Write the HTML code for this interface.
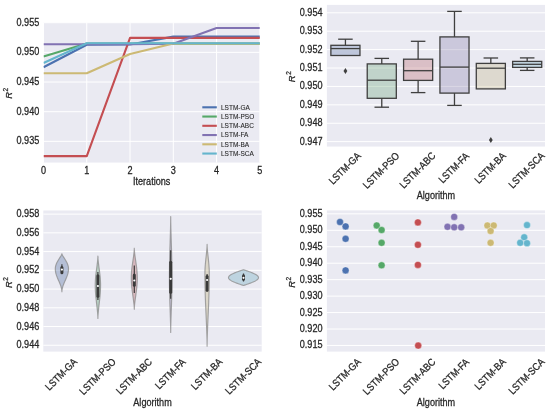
<!DOCTYPE html>
<html><head><meta charset="utf-8"><style>
html,body{margin:0;padding:0;background:#fff;width:550px;height:411px;overflow:hidden}
svg{display:block;filter:blur(0.35px);font-family:"Liberation Sans", sans-serif;fill:#262626}
text{stroke:#262626;stroke-width:0.24px}
</style></head><body>
<svg width="550" height="411" viewBox="0 0 550 411">
<defs><clipPath id="c1"><rect x="43.5" y="22.5" width="216.35" height="140.06"/></clipPath></defs>
<rect width="550" height="411" fill="#fff"/>
<rect x="43.5" y="22.5" width="216.35" height="140.06" fill="#EAEAF2"/>
<line x1="43.5" x2="259.85" y1="22.69" y2="22.69" stroke="#fff" stroke-width="1"/>
<line x1="43.5" x2="259.85" y1="52.36" y2="52.36" stroke="#fff" stroke-width="1"/>
<line x1="43.5" x2="259.85" y1="82.03" y2="82.03" stroke="#fff" stroke-width="1"/>
<line x1="43.5" x2="259.85" y1="111.69" y2="111.69" stroke="#fff" stroke-width="1"/>
<line x1="43.5" x2="259.85" y1="141.35" y2="141.35" stroke="#fff" stroke-width="1"/>
<line x1="43.50" x2="43.50" y1="22.5" y2="162.56" stroke="#fff" stroke-width="1"/>
<line x1="86.77" x2="86.77" y1="22.5" y2="162.56" stroke="#fff" stroke-width="1"/>
<line x1="130.04" x2="130.04" y1="22.5" y2="162.56" stroke="#fff" stroke-width="1"/>
<line x1="173.31" x2="173.31" y1="22.5" y2="162.56" stroke="#fff" stroke-width="1"/>
<line x1="216.58" x2="216.58" y1="22.5" y2="162.56" stroke="#fff" stroke-width="1"/>
<line x1="259.85" x2="259.85" y1="22.5" y2="162.56" stroke="#fff" stroke-width="1"/>
<text transform="translate(39.30,25.69) scale(1,1.12)" text-anchor="end" font-size="9.1">0.955</text>
<text transform="translate(39.30,55.36) scale(1,1.12)" text-anchor="end" font-size="9.1">0.950</text>
<text transform="translate(39.30,85.03) scale(1,1.12)" text-anchor="end" font-size="9.1">0.945</text>
<text transform="translate(39.30,114.69) scale(1,1.12)" text-anchor="end" font-size="9.1">0.940</text>
<text transform="translate(39.30,144.35) scale(1,1.12)" text-anchor="end" font-size="9.1">0.935</text>
<text transform="translate(43.50,173.9) scale(1,1.12)" text-anchor="middle" font-size="9.1">0</text>
<text transform="translate(86.77,173.9) scale(1,1.12)" text-anchor="middle" font-size="9.1">1</text>
<text transform="translate(130.04,173.9) scale(1,1.12)" text-anchor="middle" font-size="9.1">2</text>
<text transform="translate(173.31,173.9) scale(1,1.12)" text-anchor="middle" font-size="9.1">3</text>
<text transform="translate(216.58,173.9) scale(1,1.12)" text-anchor="middle" font-size="9.1">4</text>
<text transform="translate(259.85,173.9) scale(1,1.12)" text-anchor="middle" font-size="9.1">5</text>
<text transform="translate(151.68,184.6) scale(1,1.12)" text-anchor="middle" font-size="9.1">Iterations</text>
<text transform="translate(11.5,93.33) rotate(-90)" text-anchor="middle" font-size="9.1"><tspan font-style="italic" font-size="9.3">R</tspan><tspan font-size="6.5" dx="0.7" dy="-3.3">2</tspan></text>
<g clip-path="url(#c1)">
<polyline points="43.50,67.20 86.77,44.80 130.04,44.50 173.31,36.60 216.58,36.60 259.85,36.60" fill="none" stroke="#4C72B0" stroke-width="2.1" stroke-linejoin="round" stroke-linecap="butt"/>
<polyline points="43.50,56.40 86.77,43.60 130.04,43.60 173.31,43.60 216.58,43.60 259.85,43.60" fill="none" stroke="#55A868" stroke-width="2.1" stroke-linejoin="round" stroke-linecap="butt"/>
<polyline points="43.50,156.10 86.77,156.10 130.04,37.90 173.31,37.90 216.58,37.90 259.85,37.90" fill="none" stroke="#C44E52" stroke-width="2.1" stroke-linejoin="round" stroke-linecap="butt"/>
<polyline points="43.50,44.20 86.77,44.20 130.04,44.20 173.31,43.80 216.58,28.00 259.85,28.00" fill="none" stroke="#8172B2" stroke-width="2.1" stroke-linejoin="round" stroke-linecap="butt"/>
<polyline points="43.50,73.20 86.77,73.20 130.04,54.00 173.31,43.60 216.58,43.60 259.85,43.60" fill="none" stroke="#CCB974" stroke-width="2.1" stroke-linejoin="round" stroke-linecap="butt"/>
<polyline points="43.50,63.00 86.77,43.30 130.04,43.30 173.31,43.30 216.58,43.30 259.85,43.30" fill="none" stroke="#64B5CD" stroke-width="2.1" stroke-linejoin="round" stroke-linecap="butt"/>
</g>
<line x1="202.3" x2="216.8" y1="107.30" y2="107.30" stroke="#4C72B0" stroke-width="2.1"/>
<text transform="translate(221,109.70) scale(1,1.06)" font-size="6.5" style="stroke-width:0.08px">LSTM-GA</text>
<line x1="202.3" x2="216.8" y1="116.55" y2="116.55" stroke="#55A868" stroke-width="2.1"/>
<text transform="translate(221,118.95) scale(1,1.06)" font-size="6.5" style="stroke-width:0.08px">LSTM-PSO</text>
<line x1="202.3" x2="216.8" y1="125.80" y2="125.80" stroke="#C44E52" stroke-width="2.1"/>
<text transform="translate(221,128.20) scale(1,1.06)" font-size="6.5" style="stroke-width:0.08px">LSTM-ABC</text>
<line x1="202.3" x2="216.8" y1="135.05" y2="135.05" stroke="#8172B2" stroke-width="2.1"/>
<text transform="translate(221,137.45) scale(1,1.06)" font-size="6.5" style="stroke-width:0.08px">LSTM-FA</text>
<line x1="202.3" x2="216.8" y1="144.30" y2="144.30" stroke="#CCB974" stroke-width="2.1"/>
<text transform="translate(221,146.70) scale(1,1.06)" font-size="6.5" style="stroke-width:0.08px">LSTM-BA</text>
<line x1="202.3" x2="216.8" y1="153.55" y2="153.55" stroke="#64B5CD" stroke-width="2.1"/>
<text transform="translate(221,155.95) scale(1,1.06)" font-size="6.5" style="stroke-width:0.08px">LSTM-SCA</text>
<rect x="326.9" y="4.9" width="218.10" height="141.65" fill="#EAEAF2"/>
<line x1="326.9" x2="545.0" y1="141.64" y2="141.64" stroke="#fff" stroke-width="1"/>
<line x1="326.9" x2="545.0" y1="123.24" y2="123.24" stroke="#fff" stroke-width="1"/>
<line x1="326.9" x2="545.0" y1="104.84" y2="104.84" stroke="#fff" stroke-width="1"/>
<line x1="326.9" x2="545.0" y1="86.43" y2="86.43" stroke="#fff" stroke-width="1"/>
<line x1="326.9" x2="545.0" y1="68.03" y2="68.03" stroke="#fff" stroke-width="1"/>
<line x1="326.9" x2="545.0" y1="49.63" y2="49.63" stroke="#fff" stroke-width="1"/>
<line x1="326.9" x2="545.0" y1="31.22" y2="31.22" stroke="#fff" stroke-width="1"/>
<line x1="326.9" x2="545.0" y1="12.82" y2="12.82" stroke="#fff" stroke-width="1"/>
<text transform="translate(322.50,144.64) scale(1,1.12)" text-anchor="end" font-size="9.1">0.947</text>
<text transform="translate(322.50,126.24) scale(1,1.12)" text-anchor="end" font-size="9.1">0.948</text>
<text transform="translate(322.50,107.84) scale(1,1.12)" text-anchor="end" font-size="9.1">0.949</text>
<text transform="translate(322.50,89.43) scale(1,1.12)" text-anchor="end" font-size="9.1">0.950</text>
<text transform="translate(322.50,71.03) scale(1,1.12)" text-anchor="end" font-size="9.1">0.951</text>
<text transform="translate(322.50,52.63) scale(1,1.12)" text-anchor="end" font-size="9.1">0.952</text>
<text transform="translate(322.50,34.22) scale(1,1.12)" text-anchor="end" font-size="9.1">0.953</text>
<text transform="translate(322.50,15.82) scale(1,1.12)" text-anchor="end" font-size="9.1">0.954</text>
<text transform="translate(294.7,76.62500000000001) rotate(-90)" text-anchor="middle" font-size="9.1"><tspan font-style="italic" font-size="9.3">R</tspan><tspan font-size="6.5" dx="0.7" dy="-3.3">2</tspan></text>
<text transform="translate(344.57,168.10) rotate(-45) scale(1,1.12)" text-anchor="middle" dominant-baseline="central" font-size="9.1">LSTM-GA</text>
<text transform="translate(380.92,170.25) rotate(-45) scale(1,1.12)" text-anchor="middle" dominant-baseline="central" font-size="9.1">LSTM-PSO</text>
<text transform="translate(417.27,170.07) rotate(-45) scale(1,1.12)" text-anchor="middle" dominant-baseline="central" font-size="9.1">LSTM-ABC</text>
<text transform="translate(453.62,167.56) rotate(-45) scale(1,1.12)" text-anchor="middle" dominant-baseline="central" font-size="9.1">LSTM-FA</text>
<text transform="translate(489.98,167.74) rotate(-45) scale(1,1.12)" text-anchor="middle" dominant-baseline="central" font-size="9.1">LSTM-BA</text>
<text transform="translate(526.33,170.07) rotate(-45) scale(1,1.12)" text-anchor="middle" dominant-baseline="central" font-size="9.1">LSTM-SCA</text>
<text transform="translate(435.95,199.3) scale(1,1.12)" text-anchor="middle" font-size="9.1">Algorithm</text>
<rect x="330.88" y="45.30" width="29.08" height="10.20" fill="#5875a4" fill-opacity="0.3" stroke="#3f3f3f" stroke-width="1.3"/>
<line x1="330.88" x2="359.97" y1="48.6" y2="48.6" stroke="#3f3f3f" stroke-width="1.3"/>
<line x1="345.43" x2="345.43" y1="39.2" y2="45.3" stroke="#3f3f3f" stroke-width="1.3"/>
<line x1="338.16" x2="352.69" y1="39.2" y2="39.2" stroke="#3f3f3f" stroke-width="1.3"/>
<path d="M345.43,68.10 L347.32,71.00 L345.43,73.90 L343.53,71.00Z" fill="#3f3f3f"/>
<rect x="367.23" y="63.90" width="29.08" height="34.40" fill="#5f9e6e" fill-opacity="0.3" stroke="#3f3f3f" stroke-width="1.3"/>
<line x1="367.23" x2="396.31" y1="80.2" y2="80.2" stroke="#3f3f3f" stroke-width="1.3"/>
<line x1="381.77" x2="381.77" y1="58.4" y2="63.9" stroke="#3f3f3f" stroke-width="1.3"/>
<line x1="374.50" x2="389.04" y1="58.4" y2="58.4" stroke="#3f3f3f" stroke-width="1.3"/>
<line x1="381.77" x2="381.77" y1="98.3" y2="107.2" stroke="#3f3f3f" stroke-width="1.3"/>
<line x1="374.50" x2="389.04" y1="107.2" y2="107.2" stroke="#3f3f3f" stroke-width="1.3"/>
<rect x="403.58" y="59.20" width="29.08" height="21.20" fill="#b55d60" fill-opacity="0.3" stroke="#3f3f3f" stroke-width="1.3"/>
<line x1="403.58" x2="432.67" y1="70.7" y2="70.7" stroke="#3f3f3f" stroke-width="1.3"/>
<line x1="418.12" x2="418.12" y1="41.3" y2="59.2" stroke="#3f3f3f" stroke-width="1.3"/>
<line x1="410.86" x2="425.39" y1="41.3" y2="41.3" stroke="#3f3f3f" stroke-width="1.3"/>
<line x1="418.12" x2="418.12" y1="80.4" y2="92.6" stroke="#3f3f3f" stroke-width="1.3"/>
<line x1="410.86" x2="425.39" y1="92.6" y2="92.6" stroke="#3f3f3f" stroke-width="1.3"/>
<rect x="439.94" y="36.90" width="29.08" height="56.20" fill="#857aaa" fill-opacity="0.3" stroke="#3f3f3f" stroke-width="1.3"/>
<line x1="439.94" x2="469.02" y1="67.1" y2="67.1" stroke="#3f3f3f" stroke-width="1.3"/>
<line x1="454.48" x2="454.48" y1="11.4" y2="36.9" stroke="#3f3f3f" stroke-width="1.3"/>
<line x1="447.21" x2="461.75" y1="11.4" y2="11.4" stroke="#3f3f3f" stroke-width="1.3"/>
<line x1="454.48" x2="454.48" y1="93.1" y2="105.4" stroke="#3f3f3f" stroke-width="1.3"/>
<line x1="447.21" x2="461.75" y1="105.4" y2="105.4" stroke="#3f3f3f" stroke-width="1.3"/>
<rect x="476.29" y="63.40" width="29.08" height="25.50" fill="#c1b37f" fill-opacity="0.3" stroke="#3f3f3f" stroke-width="1.3"/>
<line x1="476.29" x2="505.37" y1="68.2" y2="68.2" stroke="#3f3f3f" stroke-width="1.3"/>
<line x1="490.83" x2="490.83" y1="58.0" y2="63.4" stroke="#3f3f3f" stroke-width="1.3"/>
<line x1="483.56" x2="498.10" y1="58.0" y2="58.0" stroke="#3f3f3f" stroke-width="1.3"/>
<path d="M490.83,137.10 L492.73,140.00 L490.83,142.90 L488.93,140.00Z" fill="#3f3f3f"/>
<rect x="512.64" y="61.40" width="29.08" height="6.00" fill="#71aec0" fill-opacity="0.3" stroke="#3f3f3f" stroke-width="1.3"/>
<line x1="512.64" x2="541.72" y1="64.3" y2="64.3" stroke="#3f3f3f" stroke-width="1.3"/>
<line x1="527.18" x2="527.18" y1="57.9" y2="61.4" stroke="#3f3f3f" stroke-width="1.3"/>
<line x1="519.91" x2="534.45" y1="57.9" y2="57.9" stroke="#3f3f3f" stroke-width="1.3"/>
<line x1="527.18" x2="527.18" y1="67.4" y2="70.4" stroke="#3f3f3f" stroke-width="1.3"/>
<line x1="519.91" x2="534.45" y1="70.4" y2="70.4" stroke="#3f3f3f" stroke-width="1.3"/>
<rect x="43.3" y="210.5" width="218.40" height="141.10" fill="#EAEAF2"/>
<line x1="43.3" x2="261.7" y1="345.28" y2="345.28" stroke="#fff" stroke-width="1"/>
<line x1="43.3" x2="261.7" y1="326.54" y2="326.54" stroke="#fff" stroke-width="1"/>
<line x1="43.3" x2="261.7" y1="307.80" y2="307.80" stroke="#fff" stroke-width="1"/>
<line x1="43.3" x2="261.7" y1="289.06" y2="289.06" stroke="#fff" stroke-width="1"/>
<line x1="43.3" x2="261.7" y1="270.32" y2="270.32" stroke="#fff" stroke-width="1"/>
<line x1="43.3" x2="261.7" y1="251.58" y2="251.58" stroke="#fff" stroke-width="1"/>
<line x1="43.3" x2="261.7" y1="232.84" y2="232.84" stroke="#fff" stroke-width="1"/>
<line x1="43.3" x2="261.7" y1="214.10" y2="214.10" stroke="#fff" stroke-width="1"/>
<text transform="translate(39.30,348.28) scale(1,1.12)" text-anchor="end" font-size="9.1">0.944</text>
<text transform="translate(39.30,329.54) scale(1,1.12)" text-anchor="end" font-size="9.1">0.946</text>
<text transform="translate(39.30,310.80) scale(1,1.12)" text-anchor="end" font-size="9.1">0.948</text>
<text transform="translate(39.30,292.06) scale(1,1.12)" text-anchor="end" font-size="9.1">0.950</text>
<text transform="translate(39.30,273.32) scale(1,1.12)" text-anchor="end" font-size="9.1">0.952</text>
<text transform="translate(39.30,254.58) scale(1,1.12)" text-anchor="end" font-size="9.1">0.954</text>
<text transform="translate(39.30,235.84) scale(1,1.12)" text-anchor="end" font-size="9.1">0.956</text>
<text transform="translate(39.30,217.10) scale(1,1.12)" text-anchor="end" font-size="9.1">0.958</text>
<text transform="translate(11.5,282.55) rotate(-90)" text-anchor="middle" font-size="9.1"><tspan font-style="italic" font-size="9.3">R</tspan><tspan font-size="6.5" dx="0.7" dy="-3.3">2</tspan></text>
<text transform="translate(61.00,374.20) rotate(-45) scale(1,1.12)" text-anchor="middle" dominant-baseline="central" font-size="9.1">LSTM-GA</text>
<text transform="translate(97.40,376.35) rotate(-45) scale(1,1.12)" text-anchor="middle" dominant-baseline="central" font-size="9.1">LSTM-PSO</text>
<text transform="translate(133.80,376.17) rotate(-45) scale(1,1.12)" text-anchor="middle" dominant-baseline="central" font-size="9.1">LSTM-ABC</text>
<text transform="translate(170.20,373.66) rotate(-45) scale(1,1.12)" text-anchor="middle" dominant-baseline="central" font-size="9.1">LSTM-FA</text>
<text transform="translate(206.60,373.84) rotate(-45) scale(1,1.12)" text-anchor="middle" dominant-baseline="central" font-size="9.1">LSTM-BA</text>
<text transform="translate(243.00,376.17) rotate(-45) scale(1,1.12)" text-anchor="middle" dominant-baseline="central" font-size="9.1">LSTM-SCA</text>
<text transform="translate(152.50,405.9) scale(1,1.12)" text-anchor="middle" font-size="9.1">Algorithm</text>
<path d="M61.90,253.80 L62.27,254.75 L62.77,255.70 L63.33,256.65 L63.92,257.60 L64.52,258.55 L65.11,259.50 L65.69,260.45 L66.24,261.40 L66.74,262.35 L67.20,263.30 L67.59,264.25 L67.93,265.20 L68.19,266.15 L68.37,267.10 L68.47,268.05 L68.50,269.00 L68.46,269.95 L68.37,270.90 L68.23,271.85 L68.04,272.80 L67.81,273.75 L67.53,274.70 L67.22,275.65 L66.87,276.60 L66.50,277.55 L66.10,278.50 L65.69,279.45 L65.27,280.40 L64.85,281.35 L64.43,282.30 L64.03,283.25 L63.64,284.20 L63.28,285.15 L62.95,286.10 L62.65,287.05 L62.40,288.00 L62.19,288.95 L62.04,289.90 L61.94,290.85 L61.90,291.80 L61.90,291.80 L61.86,290.85 L61.76,289.90 L61.61,288.95 L61.40,288.00 L61.15,287.05 L60.85,286.10 L60.52,285.15 L60.16,284.20 L59.77,283.25 L59.37,282.30 L58.95,281.35 L58.53,280.40 L58.11,279.45 L57.70,278.50 L57.30,277.55 L56.93,276.60 L56.58,275.65 L56.27,274.70 L55.99,273.75 L55.76,272.80 L55.57,271.85 L55.43,270.90 L55.34,269.95 L55.30,269.00 L55.33,268.05 L55.43,267.10 L55.61,266.15 L55.87,265.20 L56.21,264.25 L56.60,263.30 L57.06,262.35 L57.56,261.40 L58.11,260.45 L58.69,259.50 L59.28,258.55 L59.88,257.60 L60.47,256.65 L61.03,255.70 L61.53,254.75 L61.90,253.80Z" fill="#5875a4" fill-opacity="0.36" stroke="#8a8a8a" stroke-opacity="0.75" stroke-width="1.15" stroke-linejoin="round"/>
<line x1="61.90" x2="61.90" y1="264.2" y2="274.0" stroke="#3a3a3a" stroke-width="1.2"/>
<line x1="61.90" x2="61.90" y1="267.50" y2="272.70" stroke="#3a3a3a" stroke-width="3.0" stroke-linecap="round"/>
<circle cx="61.90" cy="269.6" r="1.1" fill="#fff"/>
<path d="M97.90,256.10 L97.95,257.66 L98.05,259.22 L98.19,260.77 L98.35,262.33 L98.54,263.89 L98.74,265.44 L98.94,267.00 L99.15,268.56 L99.36,270.12 L99.57,271.68 L99.76,273.23 L99.94,274.79 L100.10,276.35 L100.25,277.91 L100.36,279.46 L100.45,281.02 L100.51,282.58 L100.55,284.13 L100.55,285.69 L100.53,287.25 L100.48,288.81 L100.42,290.37 L100.33,291.92 L100.23,293.48 L100.10,295.04 L99.96,296.59 L99.81,298.15 L99.64,299.71 L99.47,301.27 L99.29,302.82 L99.11,304.38 L98.93,305.94 L98.75,307.50 L98.58,309.06 L98.41,310.61 L98.26,312.17 L98.13,313.73 L98.02,315.28 L97.94,316.84 L97.90,318.40 L97.90,318.40 L97.86,316.84 L97.78,315.28 L97.67,313.73 L97.54,312.17 L97.39,310.61 L97.22,309.06 L97.05,307.50 L96.87,305.94 L96.69,304.38 L96.51,302.82 L96.33,301.27 L96.16,299.71 L95.99,298.15 L95.84,296.59 L95.70,295.04 L95.57,293.48 L95.47,291.92 L95.38,290.37 L95.32,288.81 L95.27,287.25 L95.25,285.69 L95.25,284.13 L95.29,282.58 L95.35,281.02 L95.44,279.46 L95.55,277.91 L95.70,276.35 L95.86,274.79 L96.04,273.23 L96.23,271.68 L96.44,270.12 L96.65,268.56 L96.86,267.00 L97.06,265.44 L97.26,263.89 L97.45,262.33 L97.61,260.77 L97.75,259.22 L97.85,257.66 L97.90,256.10Z" fill="#5f9e6e" fill-opacity="0.36" stroke="#8a8a8a" stroke-opacity="0.75" stroke-width="1.15" stroke-linejoin="round"/>
<line x1="97.90" x2="97.90" y1="272.0" y2="300.0" stroke="#3a3a3a" stroke-width="1.2"/>
<line x1="97.90" x2="97.90" y1="275.80" y2="296.20" stroke="#3a3a3a" stroke-width="3.0" stroke-linecap="round"/>
<circle cx="97.90" cy="286.0" r="1.1" fill="#fff"/>
<path d="M134.30,248.20 L134.35,249.73 L134.46,251.25 L134.60,252.78 L134.78,254.31 L134.97,255.84 L135.18,257.37 L135.40,258.89 L135.63,260.42 L135.85,261.95 L136.08,263.48 L136.29,265.00 L136.50,266.53 L136.68,268.06 L136.85,269.58 L136.99,271.11 L137.11,272.64 L137.20,274.17 L137.26,275.69 L137.30,277.22 L137.30,278.75 L137.27,280.28 L137.21,281.81 L137.13,283.33 L137.02,284.86 L136.89,286.39 L136.74,287.92 L136.57,289.44 L136.38,290.97 L136.18,292.50 L135.97,294.02 L135.76,295.55 L135.54,297.08 L135.33,298.61 L135.12,300.13 L134.92,301.66 L134.74,303.19 L134.58,304.72 L134.45,306.25 L134.35,307.77 L134.30,309.30 L134.30,309.30 L134.25,307.77 L134.15,306.25 L134.02,304.72 L133.86,303.19 L133.68,301.66 L133.48,300.13 L133.27,298.61 L133.06,297.08 L132.84,295.55 L132.63,294.02 L132.42,292.50 L132.22,290.97 L132.03,289.44 L131.86,287.92 L131.71,286.39 L131.58,284.86 L131.47,283.33 L131.39,281.81 L131.33,280.28 L131.30,278.75 L131.30,277.22 L131.34,275.69 L131.40,274.17 L131.49,272.64 L131.61,271.11 L131.75,269.58 L131.92,268.06 L132.10,266.53 L132.31,265.00 L132.52,263.48 L132.75,261.95 L132.97,260.42 L133.20,258.89 L133.42,257.37 L133.63,255.84 L133.82,254.31 L134.00,252.78 L134.14,251.25 L134.25,249.73 L134.30,248.20Z" fill="#b55d60" fill-opacity="0.36" stroke="#8a8a8a" stroke-opacity="0.75" stroke-width="1.15" stroke-linejoin="round"/>
<line x1="134.30" x2="134.30" y1="265.5" y2="292.9" stroke="#3a3a3a" stroke-width="1.2"/>
<line x1="134.30" x2="134.30" y1="275.00" y2="285.30" stroke="#3a3a3a" stroke-width="3.0" stroke-linecap="round"/>
<circle cx="134.30" cy="280.5" r="1.1" fill="#fff"/>
<path d="M170.70,216.60 L170.72,219.50 L170.76,222.39 L170.82,225.29 L170.88,228.19 L170.96,231.09 L171.04,233.98 L171.12,236.88 L171.21,239.78 L171.30,242.68 L171.39,245.57 L171.48,248.47 L171.57,251.37 L171.65,254.27 L171.72,257.16 L171.79,260.06 L171.85,262.96 L171.90,265.86 L171.94,268.75 L171.97,271.65 L171.99,274.55 L172.00,277.45 L172.00,280.35 L171.98,283.24 L171.94,286.14 L171.90,289.04 L171.84,291.94 L171.77,294.83 L171.69,297.73 L171.60,300.63 L171.51,303.52 L171.41,306.42 L171.30,309.32 L171.20,312.22 L171.10,315.12 L171.01,318.01 L170.92,320.91 L170.84,323.81 L170.77,326.70 L170.72,329.60 L170.70,332.50 L170.70,332.50 L170.68,329.60 L170.63,326.70 L170.56,323.81 L170.48,320.91 L170.39,318.01 L170.30,315.12 L170.20,312.22 L170.10,309.32 L169.99,306.42 L169.89,303.52 L169.80,300.63 L169.71,297.73 L169.63,294.83 L169.56,291.94 L169.50,289.04 L169.46,286.14 L169.42,283.24 L169.40,280.35 L169.40,277.45 L169.41,274.55 L169.43,271.65 L169.46,268.75 L169.50,265.86 L169.55,262.96 L169.61,260.06 L169.68,257.16 L169.75,254.27 L169.83,251.37 L169.92,248.47 L170.01,245.57 L170.10,242.68 L170.19,239.78 L170.28,236.88 L170.36,233.98 L170.44,231.09 L170.52,228.19 L170.58,225.29 L170.64,222.39 L170.68,219.50 L170.70,216.60Z" fill="#857aaa" fill-opacity="0.36" stroke="#8a8a8a" stroke-opacity="0.75" stroke-width="1.15" stroke-linejoin="round"/>
<line x1="170.70" x2="170.70" y1="250.3" y2="298.8" stroke="#3a3a3a" stroke-width="1.2"/>
<line x1="170.70" x2="170.70" y1="262.30" y2="292.20" stroke="#3a3a3a" stroke-width="3.0" stroke-linecap="round"/>
<circle cx="170.70" cy="278.8" r="1.1" fill="#fff"/>
<path d="M207.10,244.40 L207.19,246.94 L207.37,249.49 L207.60,252.03 L207.86,254.58 L208.14,257.12 L208.41,259.67 L208.67,262.21 L208.90,264.76 L209.08,267.31 L209.22,269.85 L209.29,272.39 L209.30,274.94 L209.29,277.49 L209.27,280.03 L209.24,282.57 L209.20,285.12 L209.15,287.67 L209.09,290.21 L209.02,292.75 L208.94,295.30 L208.86,297.85 L208.76,300.39 L208.67,302.94 L208.56,305.48 L208.45,308.02 L208.34,310.57 L208.23,313.12 L208.11,315.66 L208.00,318.20 L207.89,320.75 L207.78,323.30 L207.67,325.84 L207.56,328.38 L207.47,330.93 L207.38,333.48 L207.29,336.02 L207.22,338.56 L207.16,341.11 L207.12,343.65 L207.10,346.20 L207.10,346.20 L207.08,343.65 L207.04,341.11 L206.98,338.56 L206.91,336.02 L206.82,333.48 L206.73,330.93 L206.64,328.38 L206.53,325.84 L206.42,323.30 L206.31,320.75 L206.20,318.20 L206.09,315.66 L205.97,313.12 L205.86,310.57 L205.75,308.02 L205.64,305.48 L205.53,302.94 L205.44,300.39 L205.34,297.85 L205.26,295.30 L205.18,292.75 L205.11,290.21 L205.05,287.67 L205.00,285.12 L204.96,282.57 L204.93,280.03 L204.91,277.49 L204.90,274.94 L204.91,272.39 L204.98,269.85 L205.12,267.31 L205.30,264.76 L205.53,262.21 L205.79,259.67 L206.06,257.12 L206.34,254.58 L206.60,252.03 L206.83,249.49 L207.01,246.94 L207.10,244.40Z" fill="#c1b37f" fill-opacity="0.36" stroke="#8a8a8a" stroke-opacity="0.75" stroke-width="1.15" stroke-linejoin="round"/>
<line x1="207.10" x2="207.10" y1="274.0" y2="291.4" stroke="#3a3a3a" stroke-width="1.2"/>
<line x1="207.10" x2="207.10" y1="276.60" y2="290.20" stroke="#3a3a3a" stroke-width="3.0" stroke-linecap="round"/>
<circle cx="207.10" cy="280.0" r="1.1" fill="#fff"/>
<path d="M243.50,269.70 L244.68,270.09 L245.85,270.49 L247.00,270.88 L248.14,271.28 L249.24,271.68 L250.31,272.07 L251.34,272.46 L252.32,272.86 L253.24,273.25 L254.11,273.65 L254.91,274.05 L255.64,274.44 L256.29,274.83 L256.87,275.23 L257.36,275.62 L257.77,276.02 L258.09,276.42 L258.32,276.81 L258.45,277.20 L258.50,277.60 L258.45,278.00 L258.32,278.39 L258.09,278.78 L257.77,279.18 L257.36,279.57 L256.87,279.97 L256.29,280.37 L255.64,280.76 L254.91,281.15 L254.11,281.55 L253.24,281.94 L252.32,282.34 L251.34,282.74 L250.31,283.13 L249.24,283.52 L248.14,283.92 L247.00,284.31 L245.85,284.71 L244.68,285.11 L243.50,285.50 L243.50,285.50 L242.32,285.11 L241.15,284.71 L240.00,284.31 L238.86,283.92 L237.76,283.52 L236.69,283.13 L235.66,282.74 L234.68,282.34 L233.76,281.94 L232.89,281.55 L232.09,281.15 L231.36,280.76 L230.71,280.37 L230.13,279.97 L229.64,279.57 L229.23,279.18 L228.91,278.78 L228.68,278.39 L228.55,278.00 L228.50,277.60 L228.55,277.20 L228.68,276.81 L228.91,276.42 L229.23,276.02 L229.64,275.62 L230.13,275.23 L230.71,274.83 L231.36,274.44 L232.09,274.05 L232.89,273.65 L233.76,273.25 L234.68,272.86 L235.66,272.46 L236.69,272.07 L237.76,271.68 L238.86,271.28 L240.00,270.88 L241.15,270.49 L242.32,270.09 L243.50,269.70Z" fill="#71aec0" fill-opacity="0.36" stroke="#8a8a8a" stroke-opacity="0.75" stroke-width="1.15" stroke-linejoin="round"/>
<line x1="243.50" x2="243.50" y1="273.5" y2="281.5" stroke="#3a3a3a" stroke-width="1.2"/>
<line x1="243.50" x2="243.50" y1="275.70" y2="279.30" stroke="#3a3a3a" stroke-width="3.0" stroke-linecap="round"/>
<circle cx="243.50" cy="277.8" r="1.1" fill="#fff"/>
<rect x="326.9" y="210.4" width="218.10" height="141.20" fill="#EAEAF2"/>
<line x1="326.9" x2="545.0" y1="345.45" y2="345.45" stroke="#fff" stroke-width="1"/>
<line x1="326.9" x2="545.0" y1="329.00" y2="329.00" stroke="#fff" stroke-width="1"/>
<line x1="326.9" x2="545.0" y1="312.55" y2="312.55" stroke="#fff" stroke-width="1"/>
<line x1="326.9" x2="545.0" y1="296.10" y2="296.10" stroke="#fff" stroke-width="1"/>
<line x1="326.9" x2="545.0" y1="279.65" y2="279.65" stroke="#fff" stroke-width="1"/>
<line x1="326.9" x2="545.0" y1="263.20" y2="263.20" stroke="#fff" stroke-width="1"/>
<line x1="326.9" x2="545.0" y1="246.75" y2="246.75" stroke="#fff" stroke-width="1"/>
<line x1="326.9" x2="545.0" y1="230.30" y2="230.30" stroke="#fff" stroke-width="1"/>
<line x1="326.9" x2="545.0" y1="213.85" y2="213.85" stroke="#fff" stroke-width="1"/>
<text transform="translate(322.50,348.45) scale(1,1.12)" text-anchor="end" font-size="9.1">0.915</text>
<text transform="translate(322.50,332.00) scale(1,1.12)" text-anchor="end" font-size="9.1">0.920</text>
<text transform="translate(322.50,315.55) scale(1,1.12)" text-anchor="end" font-size="9.1">0.925</text>
<text transform="translate(322.50,299.10) scale(1,1.12)" text-anchor="end" font-size="9.1">0.930</text>
<text transform="translate(322.50,282.65) scale(1,1.12)" text-anchor="end" font-size="9.1">0.935</text>
<text transform="translate(322.50,266.20) scale(1,1.12)" text-anchor="end" font-size="9.1">0.940</text>
<text transform="translate(322.50,249.75) scale(1,1.12)" text-anchor="end" font-size="9.1">0.945</text>
<text transform="translate(322.50,233.30) scale(1,1.12)" text-anchor="end" font-size="9.1">0.950</text>
<text transform="translate(322.50,216.85) scale(1,1.12)" text-anchor="end" font-size="9.1">0.955</text>
<text transform="translate(294.7,282.3) rotate(-90)" text-anchor="middle" font-size="9.1"><tspan font-style="italic" font-size="9.3">R</tspan><tspan font-size="6.5" dx="0.7" dy="-3.3">2</tspan></text>
<text transform="translate(344.57,374.20) rotate(-45) scale(1,1.12)" text-anchor="middle" dominant-baseline="central" font-size="9.1">LSTM-GA</text>
<text transform="translate(380.92,376.35) rotate(-45) scale(1,1.12)" text-anchor="middle" dominant-baseline="central" font-size="9.1">LSTM-PSO</text>
<text transform="translate(417.27,376.17) rotate(-45) scale(1,1.12)" text-anchor="middle" dominant-baseline="central" font-size="9.1">LSTM-ABC</text>
<text transform="translate(453.62,373.66) rotate(-45) scale(1,1.12)" text-anchor="middle" dominant-baseline="central" font-size="9.1">LSTM-FA</text>
<text transform="translate(489.98,373.84) rotate(-45) scale(1,1.12)" text-anchor="middle" dominant-baseline="central" font-size="9.1">LSTM-BA</text>
<text transform="translate(526.33,376.17) rotate(-45) scale(1,1.12)" text-anchor="middle" dominant-baseline="central" font-size="9.1">LSTM-SCA</text>
<text transform="translate(435.95,405.9) scale(1,1.12)" text-anchor="middle" font-size="9.1">Algorithm</text>
<circle cx="340.0" cy="222.0" r="3.5" fill="#4C72B0" stroke="#fff" stroke-width="0.35"/>
<circle cx="345.6" cy="226.4" r="3.5" fill="#4C72B0" stroke="#fff" stroke-width="0.35"/>
<circle cx="345.6" cy="238.8" r="3.5" fill="#4C72B0" stroke="#fff" stroke-width="0.35"/>
<circle cx="345.6" cy="270.4" r="3.5" fill="#4C72B0" stroke="#fff" stroke-width="0.35"/>
<circle cx="376.7" cy="225.5" r="3.5" fill="#55A868" stroke="#fff" stroke-width="0.35"/>
<circle cx="381.6" cy="230.0" r="3.5" fill="#55A868" stroke="#fff" stroke-width="0.35"/>
<circle cx="381.6" cy="242.8" r="3.5" fill="#55A868" stroke="#fff" stroke-width="0.35"/>
<circle cx="381.6" cy="265.3" r="3.5" fill="#55A868" stroke="#fff" stroke-width="0.35"/>
<circle cx="417.9" cy="222.4" r="3.5" fill="#C44E52" stroke="#fff" stroke-width="0.35"/>
<circle cx="417.9" cy="244.8" r="3.5" fill="#C44E52" stroke="#fff" stroke-width="0.35"/>
<circle cx="417.9" cy="264.9" r="3.5" fill="#C44E52" stroke="#fff" stroke-width="0.35"/>
<circle cx="418.2" cy="345.6" r="3.5" fill="#C44E52" stroke="#fff" stroke-width="0.35"/>
<circle cx="454.2" cy="216.9" r="3.5" fill="#8172B2" stroke="#fff" stroke-width="0.35"/>
<circle cx="447.5" cy="226.8" r="3.5" fill="#8172B2" stroke="#fff" stroke-width="0.35"/>
<circle cx="454.2" cy="227.3" r="3.5" fill="#8172B2" stroke="#fff" stroke-width="0.35"/>
<circle cx="461.2" cy="227.3" r="3.5" fill="#8172B2" stroke="#fff" stroke-width="0.35"/>
<circle cx="487.4" cy="225.5" r="3.5" fill="#CCB974" stroke="#fff" stroke-width="0.35"/>
<circle cx="493.7" cy="225.5" r="3.5" fill="#CCB974" stroke="#fff" stroke-width="0.35"/>
<circle cx="490.6" cy="231.0" r="3.5" fill="#CCB974" stroke="#fff" stroke-width="0.35"/>
<circle cx="490.6" cy="242.8" r="3.5" fill="#CCB974" stroke="#fff" stroke-width="0.35"/>
<circle cx="527.0" cy="225.1" r="3.5" fill="#64B5CD" stroke="#fff" stroke-width="0.35"/>
<circle cx="524.2" cy="237.3" r="3.5" fill="#64B5CD" stroke="#fff" stroke-width="0.35"/>
<circle cx="520.2" cy="242.8" r="3.5" fill="#64B5CD" stroke="#fff" stroke-width="0.35"/>
<circle cx="527.0" cy="243.2" r="3.5" fill="#64B5CD" stroke="#fff" stroke-width="0.35"/>
</svg>
</body></html>
